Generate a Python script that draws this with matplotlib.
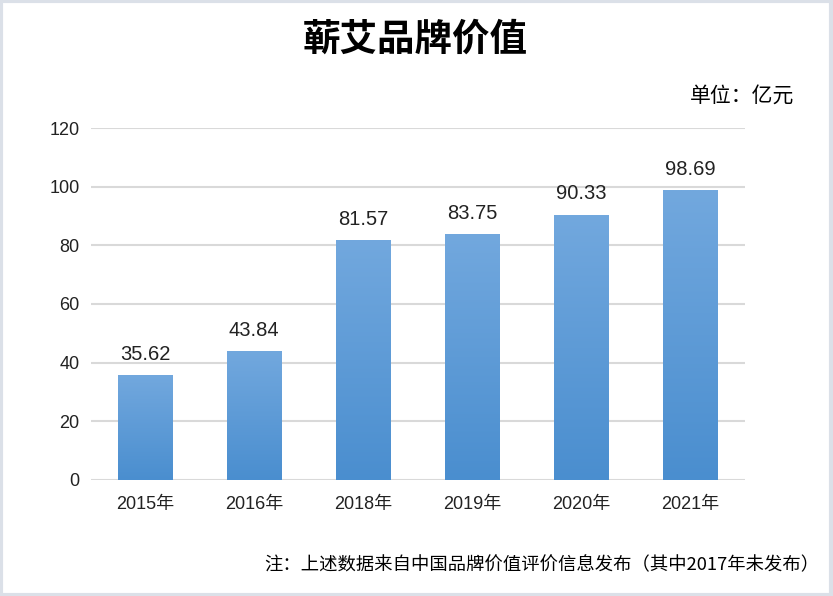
import numpy as np
import matplotlib.pyplot as plt
from matplotlib.colors import LinearSegmentedColormap
from matplotlib.patches import Rectangle

plt.rcParams['font.family'] = ['Liberation Sans', 'Noto Sans CJK SC', 'DejaVu Sans']

years = ['2015年', '2016年', '2018年', '2019年', '2020年', '2021年']
values = [35.62, 43.84, 81.57, 83.75, 90.33, 98.69]
yticks = [0, 20, 40, 60, 80, 100, 120]

fig = plt.figure(figsize=(8.33, 5.96), dpi=100)
ax = fig.add_axes([0.109, 0.195, 0.785, 0.59])

cmap = LinearSegmentedColormap.from_list('bar', ['#4a8ecf', '#72a8de'])
grad = np.linspace(0, 1, 256).reshape(-1, 1)
w = 0.5
x = np.arange(len(years))
bars = ax.bar(x, values, width=w, color='none')
for xi, v in zip(x, values):
    ax.imshow(grad, cmap=cmap, origin='lower', aspect='auto',
              extent=[xi - w / 2, xi + w / 2, 0, v], zorder=2)
    ax.text(xi, v + 4, f'{v:.2f}', ha='center', va='bottom', fontsize=14.5, color='#222222')

ax.set_xlim(-0.5, len(years) - 0.5)
ax.set_ylim(0, 120)
ax.set_yticks(yticks)
ax.set_xticks(x)
ax.set_xticklabels(years)
ax.tick_params(length=0, labelsize=13, colors='#222222')
ax.tick_params(axis='y', pad=8)
ax.tick_params(axis='x', pad=12)
ax.grid(axis='y', color='#d9d9d9', linewidth=1.5, zorder=0)
ax.set_axisbelow(True)
for s in ax.spines.values():
    s.set_visible(False)

fig.text(0.498, 0.935, '蕲艾品牌价值', ha='center', va='center', fontsize=27,
         fontweight='bold', family=['Noto Sans CJK SC'])
fig.text(0.954, 0.84, '单位：亿元', ha='right', va='center', fontsize=15,
         family=['Noto Sans CJK SC'])
fig.text(0.984, 0.052, '注：上述数据来自中国品牌价值评价信息发布（其中2017年未发布）',
         ha='right', va='center', fontsize=13.2, family=['Noto Sans CJK SC'])

fig.patches.append(Rectangle((0.001, 0.002), 0.997, 0.996, transform=fig.transFigure,
                             fill=False, edgecolor='#dbe0e8', linewidth=3))

fig.savefig('out.png', dpi=100)
